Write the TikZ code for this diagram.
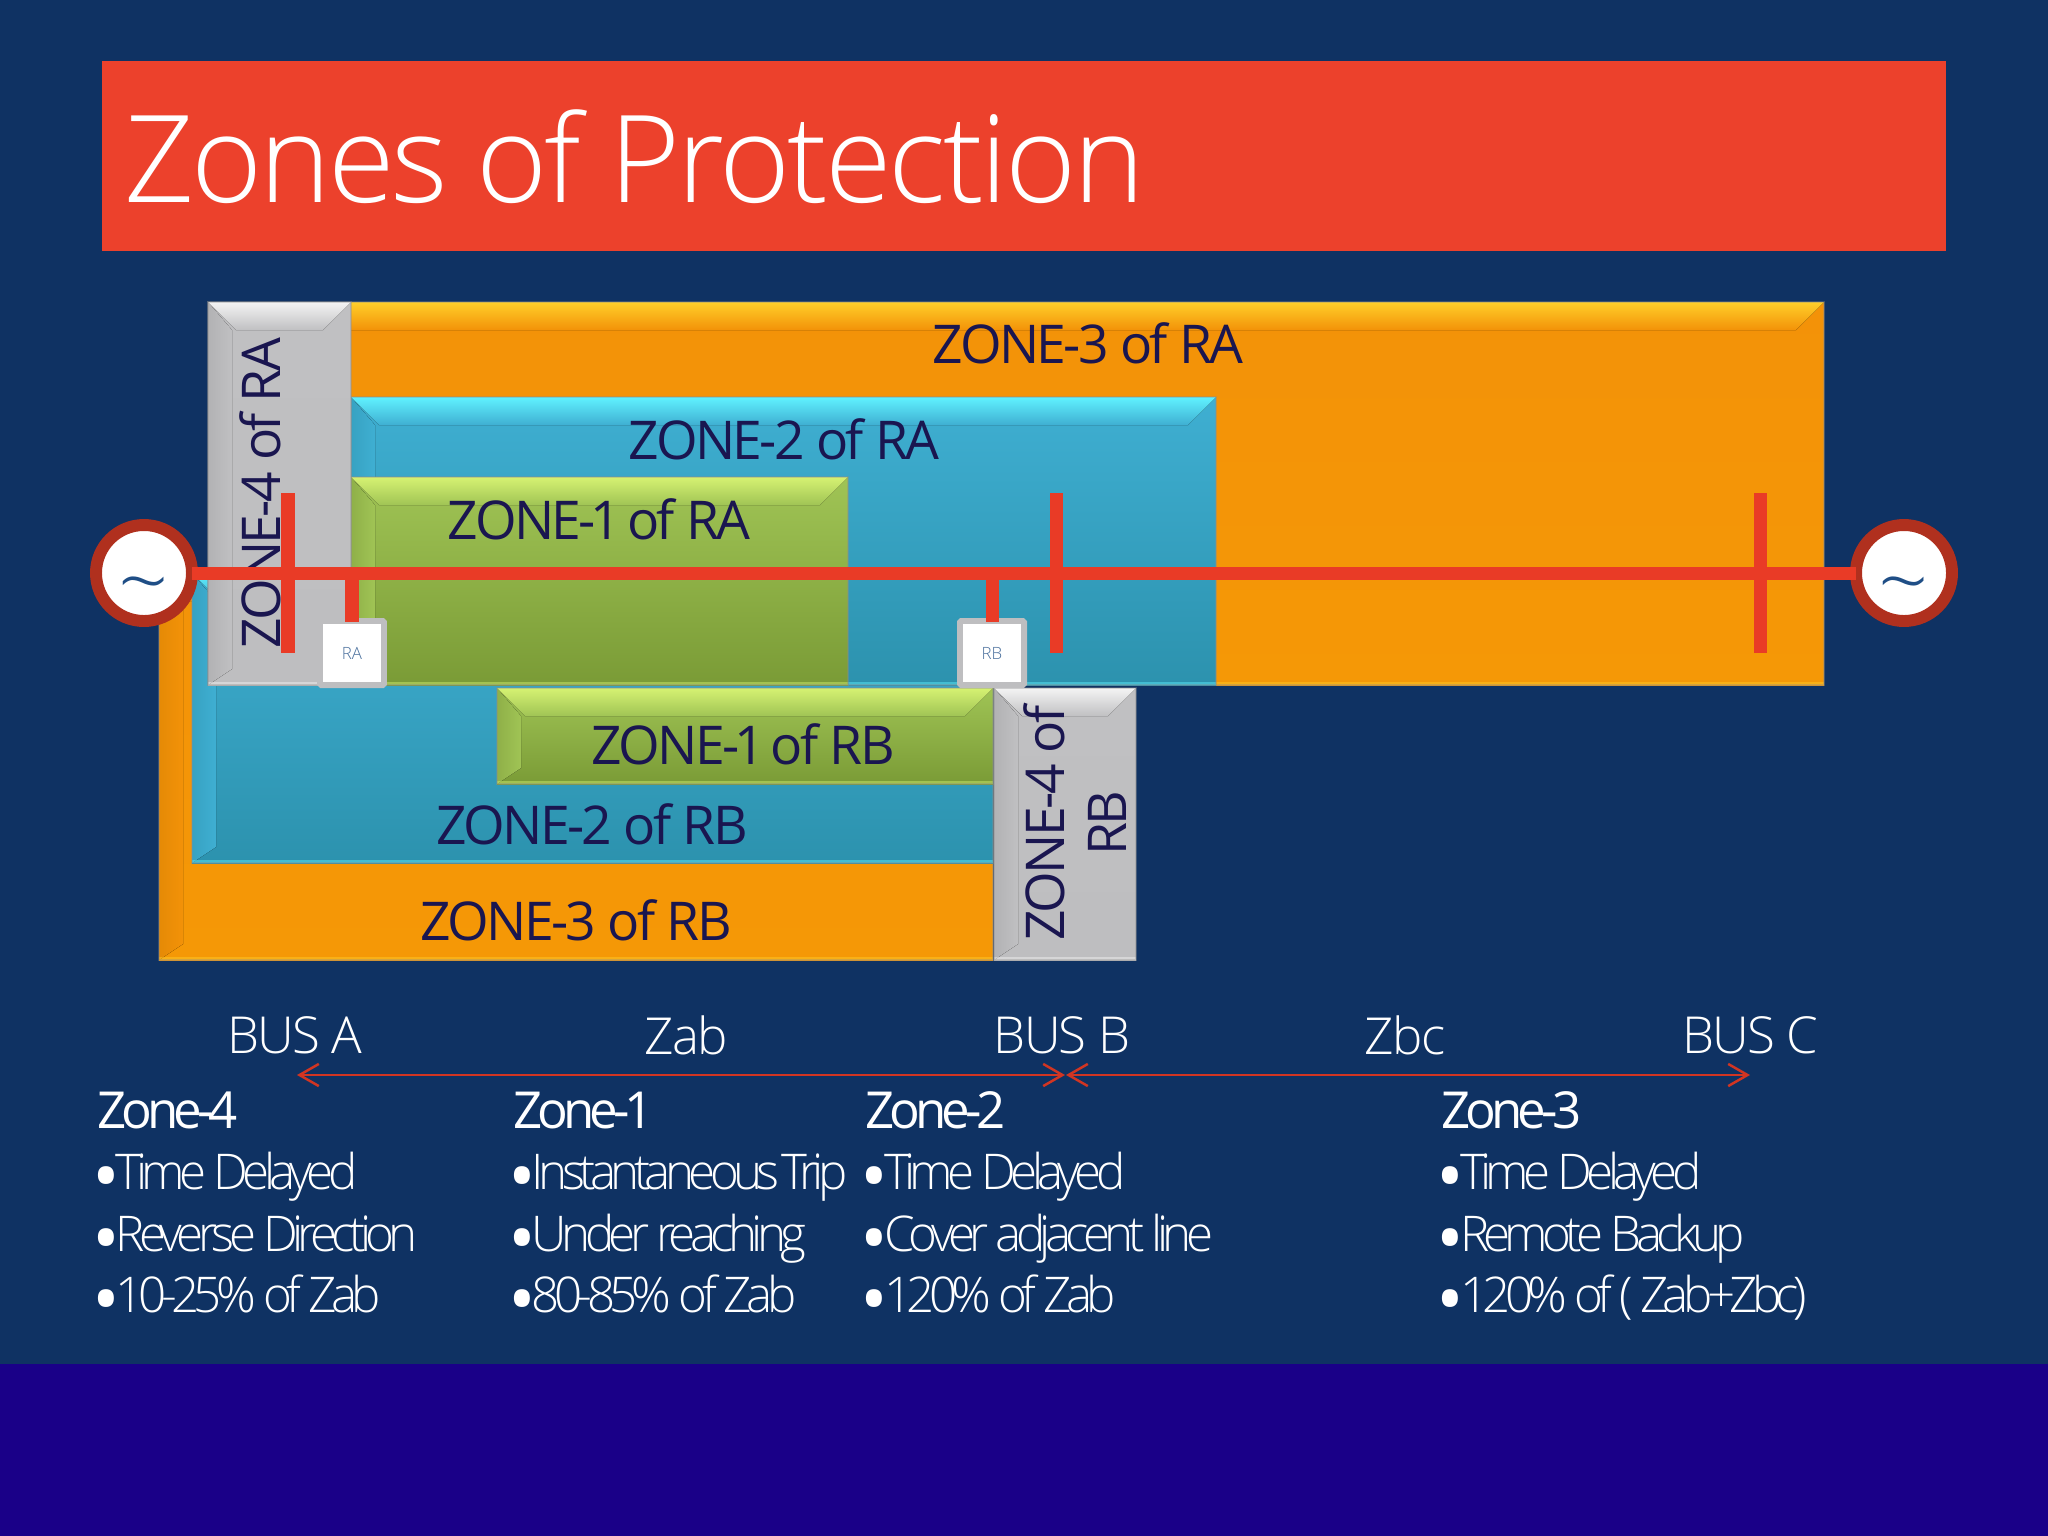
\documentclass[tikz,border=0pt]{standalone}
\usepackage{fontspec}
\setmainfont{Open Sans}[LetterSpace=-5]
\newfontfamily\plainfont{Open Sans}
\newfontfamily\thinfont{Open Sans Light}
\newfontfamily\titlefont[LetterSpace=-2.5]{Open Sans Light}
\newfontfamily\lightfont[LetterSpace=-3.5]{Open Sans Light}
\newfontfamily\tightfont[LetterSpace=-11.5]{Open Sans Light}
\newfontfamily\headfont[LetterSpace=-10]{Open Sans}
\usetikzlibrary{arrows.meta}
\definecolor{slidebg}{HTML}{0F3263}
\definecolor{bandbg}{HTML}{1A0088}
\definecolor{titlered}{HTML}{EC412C}
\definecolor{busred}{HTML}{E93B26}
\definecolor{genred}{HTML}{B0301E}
\definecolor{labelnavy}{HTML}{1A1650}
\definecolor{tildeblue}{HTML}{1F4E86}
\definecolor{orangeTop}{HTML}{F39208}\definecolor{orangeBot}{HTML}{F59806}\definecolor{orangeHi}{HTML}{FFCF2A}\definecolor{orangeSide}{HTML}{E58A06}
\definecolor{blueTop}{HTML}{3FAFD2}\definecolor{blueBot}{HTML}{2C92AE}\definecolor{blueHi}{HTML}{60F2FF}\definecolor{blueSide}{HTML}{37A2C2}
\definecolor{greenTop}{HTML}{A0C455}\definecolor{greenBot}{HTML}{7A9B36}\definecolor{greenHi}{HTML}{D6F272}\definecolor{greenSide}{HTML}{8FB048}
\definecolor{grayTop}{HTML}{C0C0C2}\definecolor{grayBot}{HTML}{BEBEC0}\definecolor{grayHi}{HTML}{F4F4F4}\definecolor{graySide}{HTML}{B2B2B4}
% box with a bevel: x1, y1, x2, y2, colour
\newcommand{\zonebox}[5]{
	\fill[top color=#5Top,bottom color=#5Bot] (#1,#2) rectangle (#3,#4);
	\fill[left color=#5Side,right color=#5Top] (#1,#2)--(#1+24,#2+28)--(#1+24,#4-16)--(#1,#4)--cycle;
	\fill[top color=#5Hi,middle color=#5Hi!25!#5Top,bottom color=#5Top] (#1,#2)--(#3,#2)--(#3-28,#2+28)--(#1+28,#2+28)--cycle;
	\fill[#5Hi,opacity=0.45] (#1,#4-3) rectangle (#3,#4);
	\draw[black!45,opacity=0.35,line width=0.4pt] (#1,#2) rectangle (#3,#4);
}
\newcommand{\itembullet}{\makebox[5.2pt][l]{\hspace{-1.5pt}\smash{\raisebox{-3.8pt}{\plainfont\fontsize{21}{17}\selectfont•}}}}
\begin{document}
\begin{tikzpicture}[x=0.01cm,y=-0.01cm]

    \tikzset{
      zonelabel/.style={
        text=labelnavy,
        font=\fontsize{15.2}{17.5}\selectfont,
        inner sep=0pt,
      },
      buslabel/.style={
        text=white,
        font=\fontsize{14.5}{17}\lightfont,
        inner sep=0pt,
      },
      headlabel/.style={
        text=white,
        anchor=base west,
        font=\fontsize{14.5}{17}\headfont,
        inner sep=0pt,
      },
      itemlabel/.style={
        text=white,
        anchor=base west,
        font=\fontsize{14}{17}\tightfont,
        inner sep=0pt,
      },
      buswire/.style={
        busred,
        line width=3.7pt,
      },
      relaybox/.style={
        draw=grayBot,
        fill=white,
        line width=1.7pt,
        rounded corners=0.4pt,
        minimum width=18.2pt,
        minimum height=18.2pt,
        inner sep=0pt,
        text=tildeblue!80,
        font=\fontsize{4.8}{6}\thinfont,
      },
      genbox/.style={
        circle,
        draw=genred,
        fill=white,
        line width=3.4pt,
        minimum size=27.3pt,
        inner sep=0pt,
        text=tildeblue,
        font=\fontsize{25}{27}\thinfont,
      },
      spanline/.style={
        draw=busred!90!black,
        line width=0.7pt,
        {Straight Barb[length=5.5pt,width=6.3pt,line width=0.7pt]}-{Straight Barb[length=5.5pt,width=6.3pt,line width=0.7pt]},
      },
    }
    \useasboundingbox (0,0) rectangle (2048,1536);
	\fill[slidebg] (0,0) rectangle (2048,1536);
	\fill[bandbg] (0,1364) rectangle (2048,1536);
	\fill[titlered] (102,61) rectangle (1946,251);
	\node[anchor=base west,text=white,font=\fontsize{34.5}{40}\titlefont,inner sep=0pt] (title) at (124,202) {Zones of Protection};

	% zones of RB
	\zonebox{159}{573}{993}{960}{orange}
	\zonebox{192}{573}{993}{863}{blue}
	\zonebox{497}{688}{993}{784}{green}
	% zones of RA
	\zonebox{208}{302}{1824}{685}{orange}
	\zonebox{351}{397}{1216}{685}{blue}
	\zonebox{351}{477}{848}{685}{green}
	\zonebox{208}{302}{351}{685}{gray}
	\zonebox{994}{688}{1136}{960}{gray}

	\node[zonelabel] (ra3) at (1088,343) {ZONE-3 of RA};
	\node[zonelabel] (ra2) at (784,439) {ZONE-2 of RA};
	\node[zonelabel] (ra1) at (599,519) {ZONE-\kern-1.5pt1\kern-1.5pt\ of RA};
	\node[zonelabel,rotate=90] (ra4) at (260,493) {ZONE-4 of RA};
	\node[zonelabel] (rb1) at (743,744) {ZONE-\kern-1.5pt1\kern-1.5pt\ of RB};
	\node[zonelabel] (rb2) at (592,824) {ZONE-2 of RB};
	\node[zonelabel] (rb3) at (576,920) {ZONE-3 of RB};
	\node[zonelabel,rotate=90,align=center] (rb4) at (1075,823) {ZONE-4 of\\RB};

	% bus and breakers
	\node[genbox] (genL) at (144,573) {\rule{0pt}{22.5pt}\char126};
	\node[genbox] (genR) at (1904,573) {\rule{0pt}{22.5pt}\char126};
	\draw[buswire,shorten <=-1.7pt,shorten >=-1.7pt] (genL.east) -- (genR.west);
	\foreach \busname/\busx in {tickA/288,tickB/1056,tickC/1760}{
		\coordinate (\busname top) at (\busx,493);
		\coordinate (\busname bot) at (\busx,653);
		\draw[buswire] (\busname top) -- (\busname bot);
	}
	\node[relaybox] (relayA) at (352,653) {RA};
	\node[relaybox] (relayB) at (992,653) {RB};
	\coordinate (stubA) at (352,573);
	\coordinate (stubB) at (992,573);
	\draw[buswire,shorten >=-1pt] (stubA) -- (relayA.north);
	\draw[buswire,shorten >=-1pt] (stubB) -- (relayB.north);

	\node[buslabel] (busA) at (295,1035) {BUS A};
	\node[buslabel] (zab) at (686,1035) {Zab};
	\node[buslabel] (busB) at (1062,1035) {BUS B};
	\node[buslabel] (zbc) at (1405,1035) {Zbc};
	\node[buslabel] (busC) at (1750,1035) {BUS C};
	\coordinate (spanA) at (297,1075);
	\coordinate (spanB) at (1065,1075);
	\coordinate (spanBb) at (1066,1075);
	\coordinate (spanC) at (1750,1075);
	\draw[spanline] (spanA) -- (spanB);
	\draw[spanline] (spanBb) -- (spanC);

	% columns
	\node[headlabel] (head4) at (97,1128) {Zone-4};
	\node[headlabel] (head1) at (513,1128) {Zone-1};
	\node[headlabel] (head2) at (865,1128) {Zone-2};
	\node[headlabel] (head3) at (1441,1128) {Zone-3};
	\foreach \itemname/\itemx/\itemy/\itemtext in {
		a/97/1189/Time Delayed,b/97/1251/Reverse Direction,c/97/1312/1\kern-1.5pt0-25\% of Zab,
		d/513/1189/Instantaneous\kern-1.5pt\ Trip,e/513/1251/Under reaching,f/513/1312/80-85\% of Zab,
		g/865/1189/Time Delayed,h/865/1251/Cover adjacent line,i/865/1312/1\kern-1.5pt20\% of Zab,
		j/1441/1189/Time Delayed,k/1441/1251/Remote Backup,l/1441/1312/1\kern-1.5pt20\% of ( Zab+Zbc)}{
		\node[itemlabel] (item\itemname) at (\itemx,\itemy) {\itembullet\itemtext};
	}

\end{tikzpicture}
\end{document}
